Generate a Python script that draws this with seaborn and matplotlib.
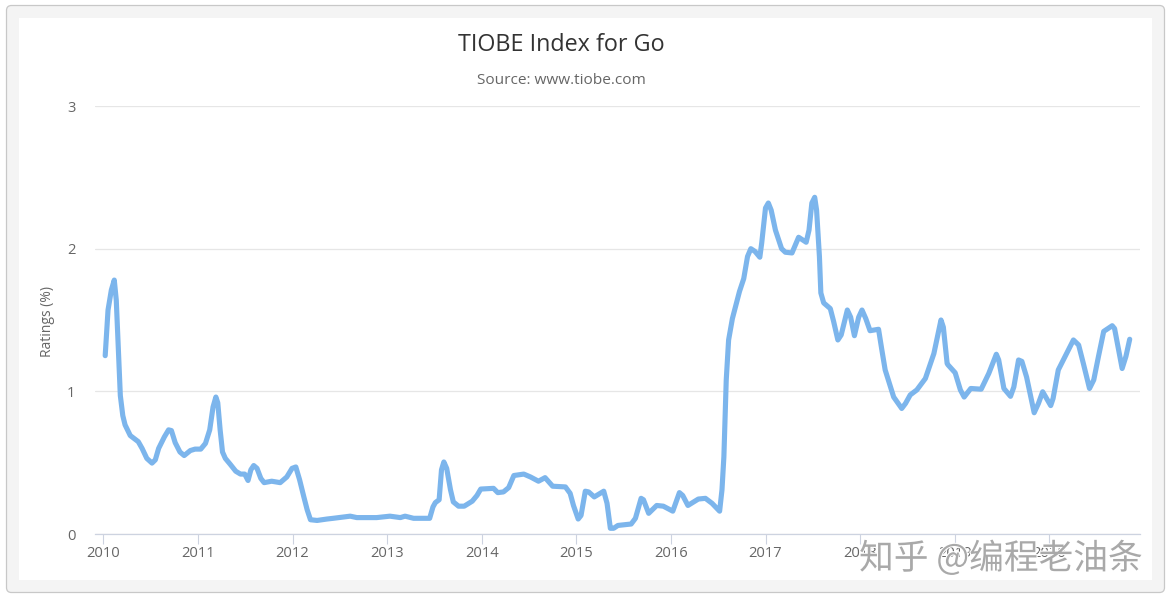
import matplotlib
matplotlib.use("Agg")
import matplotlib.pyplot as plt
import matplotlib.patheffects as pe
from matplotlib.patches import FancyBboxPatch, Rectangle
from matplotlib.transforms import IdentityTransform
import seaborn as sns
import pandas as pd

TITLE = "TIOBE Index for Go"
SUBTITLE = "Source: www.tiobe.com"
YLABEL = "Ratings (%)"
WATERMARK = "知乎 @编程老油条"
year_ticks = [2010, 2011, 2012, 2013, 2014, 2015, 2016, 2017, 2018, 2019, 2020]
rating_ticks = [0, 1, 2, 3]

years = [
    2010.02, 2010.05, 2010.085, 2010.116, 2010.137, 2010.16, 2010.18, 2010.206, 2010.23, 2010.285,
    2010.37, 2010.41, 2010.46, 2010.515, 2010.55, 2010.585, 2010.645, 2010.69, 2010.72, 2010.76,
    2010.81, 2010.855, 2010.92, 2010.97, 2011.03, 2011.08, 2011.125, 2011.16, 2011.19, 2011.21,
    2011.235, 2011.26, 2011.29, 2011.34, 2011.40, 2011.45, 2011.495, 2011.53, 2011.56, 2011.59,
    2011.625, 2011.665, 2011.70, 2011.78, 2011.87, 2011.94, 2011.995, 2012.035, 2012.075, 2012.12,
    2012.155, 2012.19, 2012.26, 2012.365, 2012.43, 2012.61, 2012.68, 2012.89, 2013.03, 2013.14,
    2013.19, 2013.28, 2013.45, 2013.485, 2013.51, 2013.55, 2013.575, 2013.60, 2013.63, 2013.67,
    2013.70, 2013.755, 2013.815, 2013.90, 2013.95, 2013.99, 2014.125, 2014.17, 2014.23, 2014.285,
    2014.34, 2014.445, 2014.515, 2014.60, 2014.67, 2014.75, 2014.885, 2014.935, 2014.97, 2015.02,
    2015.05, 2015.095, 2015.13, 2015.19, 2015.29, 2015.325, 2015.36, 2015.395, 2015.44, 2015.58,
    2015.625, 2015.685, 2015.71, 2015.765, 2015.85, 2015.92, 2016.02, 2016.09, 2016.125, 2016.18,
    2016.29, 2016.365, 2016.435, 2016.515, 2016.54, 2016.56, 2016.57, 2016.585, 2016.61, 2016.65,
    2016.725, 2016.77, 2016.81, 2016.845, 2016.89, 2016.94, 2016.96, 2017.0, 2017.03, 2017.06,
    2017.105, 2017.17, 2017.21, 2017.28, 2017.315, 2017.35, 2017.43, 2017.46, 2017.49, 2017.52,
    2017.54, 2017.57, 2017.585, 2017.615, 2017.685, 2017.72, 2017.765, 2017.80, 2017.865, 2017.90,
    2017.94, 2017.985, 2018.02, 2018.06, 2018.105, 2018.195, 2018.23, 2018.265, 2018.355, 2018.44,
    2018.48, 2018.53, 2018.60, 2018.69, 2018.78, 2018.855, 2018.88, 2018.92, 2018.93, 2019.005,
    2019.06, 2019.10, 2019.17, 2019.28, 2019.36, 2019.44, 2019.465, 2019.52, 2019.59, 2019.625,
    2019.675, 2019.71, 2019.76, 2019.84, 2019.885, 2019.93, 2020.015, 2020.04, 2020.095, 2020.255,
    2020.31, 2020.36, 2020.425, 2020.47, 2020.52, 2020.575, 2020.665, 2020.69, 2020.77, 2020.81,
    2020.85,
]
ratings = [
    1.25, 1.57, 1.71, 1.78, 1.64, 1.29, 0.97, 0.83, 0.765, 0.69,
    0.647, 0.60, 0.53, 0.497, 0.52, 0.60, 0.68, 0.73, 0.725, 0.64,
    0.575, 0.55, 0.585, 0.595, 0.595, 0.635, 0.73, 0.89, 0.96, 0.92,
    0.73, 0.575, 0.53, 0.49, 0.44, 0.42, 0.42, 0.375, 0.45, 0.48,
    0.46, 0.39, 0.36, 0.37, 0.36, 0.40, 0.46, 0.47, 0.38, 0.26,
    0.17, 0.10, 0.095, 0.105, 0.11, 0.125, 0.115, 0.115, 0.125, 0.115,
    0.125, 0.11, 0.11, 0.19, 0.22, 0.24, 0.45, 0.505, 0.46, 0.31,
    0.225, 0.195, 0.195, 0.23, 0.27, 0.315, 0.32, 0.29, 0.295, 0.325,
    0.41, 0.42, 0.40, 0.37, 0.395, 0.335, 0.33, 0.285, 0.20, 0.105,
    0.13, 0.30, 0.295, 0.26, 0.30, 0.215, 0.04, 0.04, 0.06, 0.07,
    0.11, 0.25, 0.24, 0.145, 0.20, 0.195, 0.16, 0.29, 0.27, 0.20,
    0.245, 0.25, 0.215, 0.16, 0.31, 0.54, 0.75, 1.08, 1.36, 1.51,
    1.70, 1.79, 1.945, 2.00, 1.98, 1.94, 2.04, 2.285, 2.32, 2.27,
    2.13, 2.00, 1.975, 1.97, 2.025, 2.08, 2.045, 2.13, 2.32, 2.36,
    2.27, 1.945, 1.69, 1.62, 1.58, 1.49, 1.36, 1.395, 1.57, 1.52,
    1.39, 1.52, 1.57, 1.51, 1.425, 1.435, 1.29, 1.15, 0.96, 0.88,
    0.915, 0.975, 1.01, 1.09, 1.265, 1.50, 1.45, 1.195, 1.185, 1.13,
    1.01, 0.96, 1.02, 1.015, 1.125, 1.26, 1.22, 1.02, 0.965, 1.03,
    1.22, 1.21, 1.10, 0.85, 0.915, 0.997, 0.90, 0.95, 1.15, 1.36,
    1.325, 1.195, 1.02, 1.08, 1.245, 1.42, 1.46, 1.44, 1.16, 1.245,
    1.365,
]

W, H = 1174, 602
sns.set_theme(style="white")
plt.rcParams["font.family"] = ["Open Sans", "DejaVu Sans"]
fig = plt.figure(figsize=(W / 100, H / 100), dpi=100, facecolor="white")

# outer card and inner white panel (pixel placement), behind the axes
fig.add_artist(FancyBboxPatch((6.5, H - 592.5), 1158, 587, boxstyle="round,pad=0,rounding_size=5",
                              transform=IdentityTransform(), facecolor="#f4f4f4",
                              edgecolor="#c8c8c8", linewidth=0.9, zorder=-2))
fig.add_artist(Rectangle((19 / W, 1 - 580 / H), (1152 - 19) / W, (580 - 18) / H,
                         transform=fig.transFigure, facecolor="white", edgecolor="none", zorder=-1))

ax = fig.add_axes([95 / W, 1 - 534 / H, (1140 - 95) / W, (534 - 106) / H], zorder=2)
ax.patch.set_alpha(0)
df = pd.DataFrame({"year": years, "rating": ratings})
sns.lineplot(data=df, x="year", y="rating", ax=ax, estimator=None, sort=False,
             color="#7cb5ec", linewidth=3.7, solid_joinstyle="round", solid_capstyle="round",
             clip_on=False, zorder=3)

ax.set_xlim(2010 + (95 - 103.3) / 94.6, 2010 + (1140 - 103.3) / 94.6)
ax.set_ylim(0, 3)
ax.set_xticks(year_ticks)
ax.set_yticks(rating_ticks)
ax.set_xticklabels([str(y) for y in year_ticks])
ax.grid(axis="y", color="#e6e6e6", linewidth=0.9)
ax.grid(axis="x", visible=False)
ax.set_axisbelow(True)
for s in ("top", "right", "left"):
    ax.spines[s].set_visible(False)
ax.spines["bottom"].set_color("#cdd3e0")
ax.spines["bottom"].set_linewidth(0.9)
ax.tick_params(axis="x", length=7.2, width=0.8, color="#cdd3e0", labelcolor="#666666",
               labelsize=10.6, pad=1.5, bottom=True)
ax.tick_params(axis="y", length=0, labelcolor="#666666", labelsize=10.6, pad=14)
ax.set_xlabel("")
ax.set_ylabel("")

fig.text(561 / W, 1 - 45 / H, TITLE, ha="center", va="center", fontsize=16.8, color="#333333", zorder=5)
fig.text(561 / W, 1 - 80 / H, SUBTITLE, ha="center", va="center", fontsize=11.1, color="#666666", zorder=5)
fig.text(47 / W, 1 - 322 / H, YLABEL, ha="center", va="center", rotation=90, fontsize=10, color="#666666", zorder=5)

fig.text(1001 / W, 1 - 559 / H, WATERMARK, ha="center", va="center", fontsize=25, color="#a9a9a9",
         family=["Noto Sans CJK SC", "DejaVu Sans"], zorder=10,
         path_effects=[pe.withStroke(linewidth=1.6, foreground="white")])

fig.savefig("out.png", dpi=100, facecolor="white")
